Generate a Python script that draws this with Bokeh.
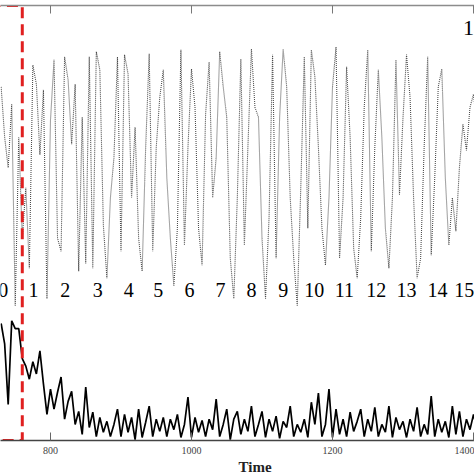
from bokeh.plotting import figure
from bokeh.models import Range1d, LinearAxis, FixedTicker, Title
from bokeh.core.properties import value
from bokeh.embed import file_html
from bokeh.resources import INLINE

# ---------------- data ----------------
t_start = 730
t_step = 5

dotted_values = [
    81.3, 69.7, 62.7, 77.3, 31.0, 69.7, 46.5, 58.1, 39.6, 86.3,
    81.9, 65.7, 80.6, 32.6, 73.6, 87.5, 46.5, 43.5, 88.2, 82.9,
    68.1, 81.9, 38.9, 74.3, 40.7, 88.2, 39.6, 89.4, 85.2, 49.5,
    37.3, 55.8, 65.0, 88.2, 43.5, 88.7, 84.3, 55.8, 72.0, 46.5,
    38.9, 67.4, 88.9, 43.5, 67.4, 78.9, 85.2, 60.4, 46.5, 35.6,
    48.8, 89.8, 44.9, 67.4, 85.4, 76.6, 48.8, 40.3, 75.0, 87.0,
    55.8, 65.0, 89.4, 81.3, 74.3, 41.9, 32.6, 55.8, 87.7, 44.9,
    67.4, 90.0, 76.6, 74.3, 46.5, 32.6, 51.2, 88.7, 41.9, 74.3,
    90.0, 81.3, 55.8, 41.9, 31.0, 58.1, 88.2, 48.8, 89.8, 83.6,
    67.4, 48.8, 40.3, 55.8, 81.3, 90.5, 41.9, 55.8, 85.9, 69.7,
    44.2, 37.3, 51.2, 76.6, 89.8, 43.5, 67.4, 85.2, 69.7, 48.8,
    39.6, 55.8, 87.5, 56.5, 74.3, 88.7, 78.9, 55.8, 37.3, 41.9,
    67.4, 88.2, 42.6, 60.4, 81.3, 85.4, 60.4, 44.9, 55.8, 48.1,
    62.7, 72.7, 66.7, 76.6, 79.6, 72.0, 67.4,
]

black_values = [
    26.9, 22.2, 8.3, 27.5, 25.7, 25.7, 18.8, 17.1, 14.1, 18.1,
    15.3, 20.6, 13.0, 6.0, 11.8, 7.2, 11.1, 14.6, 4.9, 9.0,
    11.3, 3.7, 6.7, 1.4, 12.3, 3.0, 6.5, 0.9, 5.3, 1.9,
    4.4, 0.9, 3.7, 7.2, 0.9, 6.0, 1.9, 5.3, 0.2, 7.2,
    0.7, 4.2, 7.9, 0.9, 4.9, 2.1, 5.3, 0.9, 4.9, 2.5,
    6.0, 0.7, 3.7, 10.0, 0.7, 5.3, 1.9, 4.6, 0.9, 4.9,
    2.5, 9.5, 0.9, 3.7, 7.2, 0.2, 4.9, 6.7, 1.4, 4.9,
    2.1, 7.9, 0.9, 3.7, 6.7, 0.7, 4.9, 2.1, 5.6, 0.5,
    4.4, 3.0, 7.9, 0.9, 3.7, 1.9, 4.9, 0.7, 8.8, 3.7,
    10.9, 0.9, 3.7, 11.8, 0.7, 7.2, 1.4, 4.9, 0.9, 6.5,
    2.1, 4.4, 7.2, 0.9, 4.9, 2.1, 7.6, 0.9, 3.7, 1.9,
    7.9, 0.7, 5.3, 2.5, 4.4, 0.7, 4.9, 2.1, 7.6, 0.9,
    3.7, 1.4, 10.2, 0.9, 4.9, 1.9, 4.4, 0.7, 7.9, 1.4,
    6.7, 0.9, 4.9, 2.5, 6.0, 2.5, 3.7,
]

time = [t_start + t_step * i for i in range(len(dotted_values))]

segment_labels = [str(k) for k in range(16)]
segment_times = [733, 776, 821, 867, 911, 953, 997, 1041,
                 1085, 1130, 1174, 1217, 1262, 1305, 1349, 1387]
label_level = 34.7

box_left, box_right = 690, 760
box_bottom, box_top = 0, 100

tick_values = [800, 1000, 1200, 1400]
x_title = "Time"
corner_label = "1"
corner_time, corner_level = 1393, 94.8

# ---------------- figure ----------------
SERIF = "Liberation Serif"

p = figure(width=474, height=474, output_backend="svg", toolbar_location=None,
           x_range=Range1d(729.1, 1401.4), y_range=Range1d(0, 100),
           y_axis_location=None,
           min_border_left=0, min_border_right=0, min_border_top=5, min_border_bottom=0)
p.grid.visible = False
p.outline_line_color = None
p.background_fill_color = "white"
p.border_fill_color = "white"

xa = p.xaxis[0]
xa.ticker = FixedTicker(ticks=tick_values)
xa.major_tick_in = 8
xa.major_tick_out = 0
xa.minor_tick_line_color = None
xa.axis_line_color = "#444444"
xa.axis_line_width = 1.5
xa.major_tick_line_color = "#666666"
xa.major_label_text_font = SERIF
xa.major_label_text_font_size = "10px"
xa.major_label_text_color = "#444444"
xa.major_label_standoff = 6

top = LinearAxis(ticker=FixedTicker(ticks=tick_values), major_tick_in=8, major_tick_out=0,
                 minor_tick_line_color=None, axis_line_color="#8c8c8c", axis_line_width=1.5,
                 major_tick_line_color="#777777", major_label_text_font_size="1px",
                 major_label_text_color=None, major_label_standoff=0)
p.add_layout(top, "above")

p.add_layout(Title(text=x_title, align="left", offset=238, text_font=SERIF,
                   text_font_size="15px", text_font_style="bold", text_color="#222222",
                   text_line_height=1.0, standoff=0), "below")

p.line(time, dotted_values, line_color="#4d4d4d", line_width=1.1, line_dash="1 1")
p.line(time, black_values, line_color="black", line_width=1.7)

p.text(x=segment_times, y=[label_level] * len(segment_times), text=segment_labels,
       text_font=value(SERIF), text_font_size="20px", text_align="center",
       text_baseline="middle", text_color="black")
p.text(x=[corner_time], y=[corner_level], text=[corner_label],
       text_font=value(SERIF), text_font_size="22px", text_align="center",
       text_baseline="middle", text_color="black")

p.quad(left=[box_left], right=[box_right], bottom=[box_bottom], top=[box_top],
       fill_color=None, line_color="#e02020", line_width=3, line_dash="11 6")

open("out.html", "w").write(file_html(p, INLINE))
